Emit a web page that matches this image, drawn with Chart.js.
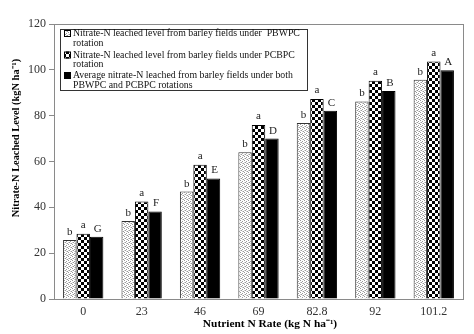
<!DOCTYPE html>
<html>
<head>
<meta charset="utf-8">
<script src="https://cdn.jsdelivr.net/npm/chart.js@4/dist/chart.umd.min.js"></script>
<style>
  html, body { margin: 0; padding: 0; background: #fff; }
  #wrap { width: 474px; height: 334px; }
</style>
</head>
<body>
<div id="wrap"><canvas id="chart" width="474" height="334"></canvas></div>
<script>
// data
const rates = ["0", "23", "46", "69", "82.8", "92", "101.2"];
const pbwpc = [25.8, 34.0, 46.9, 64.0, 76.8, 86.2, 95.7];
const pcbpc = [28.5, 42.5, 58.6, 75.9, 87.3, 95.2, 103.6];
const average = [27.2, 38.2, 52.6, 70.0, 82.1, 90.8, 99.8];
const pbwpcLetters = ["b", "b", "b", "b", "b", "b", "b"];
const pcbpcLetters = ["a", "a", "a", "a", "a", "a", "a"];
const averageLetters = ["G", "F", "E", "D", "C", "B", "A"];
const legendLines = [
  ["Nitrate-N leached level from barley fields under  PBWPC", "rotation"],
  ["Nitrate-N leached level from barley fields under PCBPC", "rotation"],
  ["Average nitrate-N leached from barley fields under both", "PBWPC and PCBPC rotations"]
];
const yTicks = [0, 20, 40, 60, 80, 100, 120];
const xTitle = "Nutrient N Rate (kg N ha\u207B\u00B9)";
const yTitle = "Nitrate-N Leached Level (kgN ha\u207B\u00B9)";

const serif = "'Liberation Serif', 'Times New Roman', serif";

// fill patterns
function makePattern(size, draw) {
  const c = document.createElement("canvas");
  c.width = size;
  c.height = size;
  const g = c.getContext("2d");
  draw(g);
  return g.createPattern(c, "repeat");
}

const dotted = makePattern(4, g => {
  g.fillStyle = "#fff";
  g.fillRect(0, 0, 4, 4);
  g.fillStyle = "#9a9a9a";
  g.fillRect(0, 0, 1, 1);
  g.fillRect(2, 1, 1, 1);
  g.fillRect(1, 2, 1, 1);
  g.fillRect(3, 3, 1, 1);
  g.fillStyle = "#d0d0d0";
  g.fillRect(2, 3, 1, 1);
  g.fillRect(0, 2, 1, 1);
});

const checker = makePattern(6, g => {
  g.fillStyle = "#fff";
  g.fillRect(0, 0, 6, 6);
  g.fillStyle = "#000";
  g.fillRect(3, 0, 3, 3);
  g.fillRect(0, 3, 3, 3);
});

// letters above bars, legend box, axis titles and plot frame
const extras = {
  id: "extras",
  afterDatasetsDraw(chart) {
    const ctx = chart.ctx;
    const area = chart.chartArea;
    ctx.save();

    // frame around the plot area
    ctx.strokeStyle = "#8a8a8a";
    ctx.lineWidth = 1;
    ctx.strokeRect(Math.round(area.left) + 0.5, Math.round(area.top) + 0.5,
      Math.round(area.right - area.left), Math.round(area.bottom - area.top));

    // significance letters
    ctx.fillStyle = "#222";
    ctx.font = "11px " + serif;
    ctx.textAlign = "center";
    ctx.textBaseline = "alphabetic";
    const sets = [pbwpcLetters, pcbpcLetters, averageLetters];
    sets.forEach((letters, i) => {
      const meta = chart.getDatasetMeta(i);
      meta.data.forEach((bar, j) => {
        const dy = i === 1 ? 6 : 5;
        ctx.fillText(letters[j], bar.x + (i === 2 ? 1 : 0), bar.y - dy);
      });
    });

    // axis titles
    ctx.fillStyle = "#000";
    ctx.font = "bold 10.4px " + serif;
    ctx.textAlign = "center";
    ctx.textBaseline = "middle";
    ctx.save();
    ctx.translate(16, 138);
    ctx.rotate(-Math.PI / 2);
    ctx.fillText(yTitle, 0, 0);
    ctx.restore();
    ctx.font = "bold 11.4px " + serif;
    ctx.textBaseline = "alphabetic";
    ctx.fillText(xTitle, 270, 327);

    // legend
    const box = { x: 60.5, y: 29.5, w: 247, h: 61 };
    ctx.fillStyle = "#fff";
    ctx.fillRect(box.x, box.y, box.w, box.h);
    ctx.strokeStyle = "#333";
    ctx.strokeRect(box.x, box.y, box.w, box.h);
    ctx.font = "9.8px " + serif;
    ctx.textAlign = "left";
    ctx.textBaseline = "middle";
    const fills = [dotted, checker, "#000"];
    const firstLineY = [33.5, 55, 75.5];
    legendLines.forEach((lines, i) => {
      const y0 = firstLineY[i];
      ctx.fillStyle = fills[i];
      ctx.fillRect(64, y0 - 3.5, 7, 7);
      ctx.strokeStyle = "#000";
      ctx.strokeRect(64.5, y0 - 3, 6, 6);
      ctx.fillStyle = "#111";
      lines.forEach((t, k) => {
        ctx.fillText(t, 73, y0 + k * 9.8);
      });
    });

    ctx.restore();
  }
};

const ctx = document.getElementById("chart").getContext("2d");

new Chart(ctx, {
  type: "bar",
  data: {
    labels: rates,
    datasets: [
      { label: legendLines[0].join(" "), data: pbwpc, backgroundColor: dotted, borderColor: "#333", borderWidth: 1 },
      { label: legendLines[1].join(" "), data: pcbpc, backgroundColor: checker, borderColor: "#000", borderWidth: 1 },
      { label: legendLines[2].join(" "), data: average, backgroundColor: "#000", borderColor: "#000", borderWidth: 1 }
    ]
  },
  options: {
    responsive: false,
    animation: false,
    layout: { padding: { left: 25, right: 11, top: 24, bottom: 9 } },
    datasets: {
      bar: { categoryPercentage: 0.69, barPercentage: 1.0 }
    },
    plugins: {
      legend: { display: false },
      tooltip: { enabled: false }
    },
    scales: {
      x: {
        grid: { display: false, drawTicks: false },
        border: { color: "#8a8a8a" },
        ticks: { color: "#333", font: { family: serif, size: 12, lineHeight: 1 }, padding: 7 }
      },
      y: {
        min: 0,
        max: 120,
        afterBuildTicks(scale) {
          scale.ticks = yTicks.map(v => ({ value: v }));
        },
        grid: { display: true, drawOnChartArea: false, drawTicks: true, tickLength: 5, color: "#8a8a8a" },
        border: { color: "#8a8a8a" },
        ticks: { color: "#333", font: { family: serif, size: 12 }, padding: 3 }
      }
    }
  },
  plugins: [extras]
});
</script>
</body>
</html>
